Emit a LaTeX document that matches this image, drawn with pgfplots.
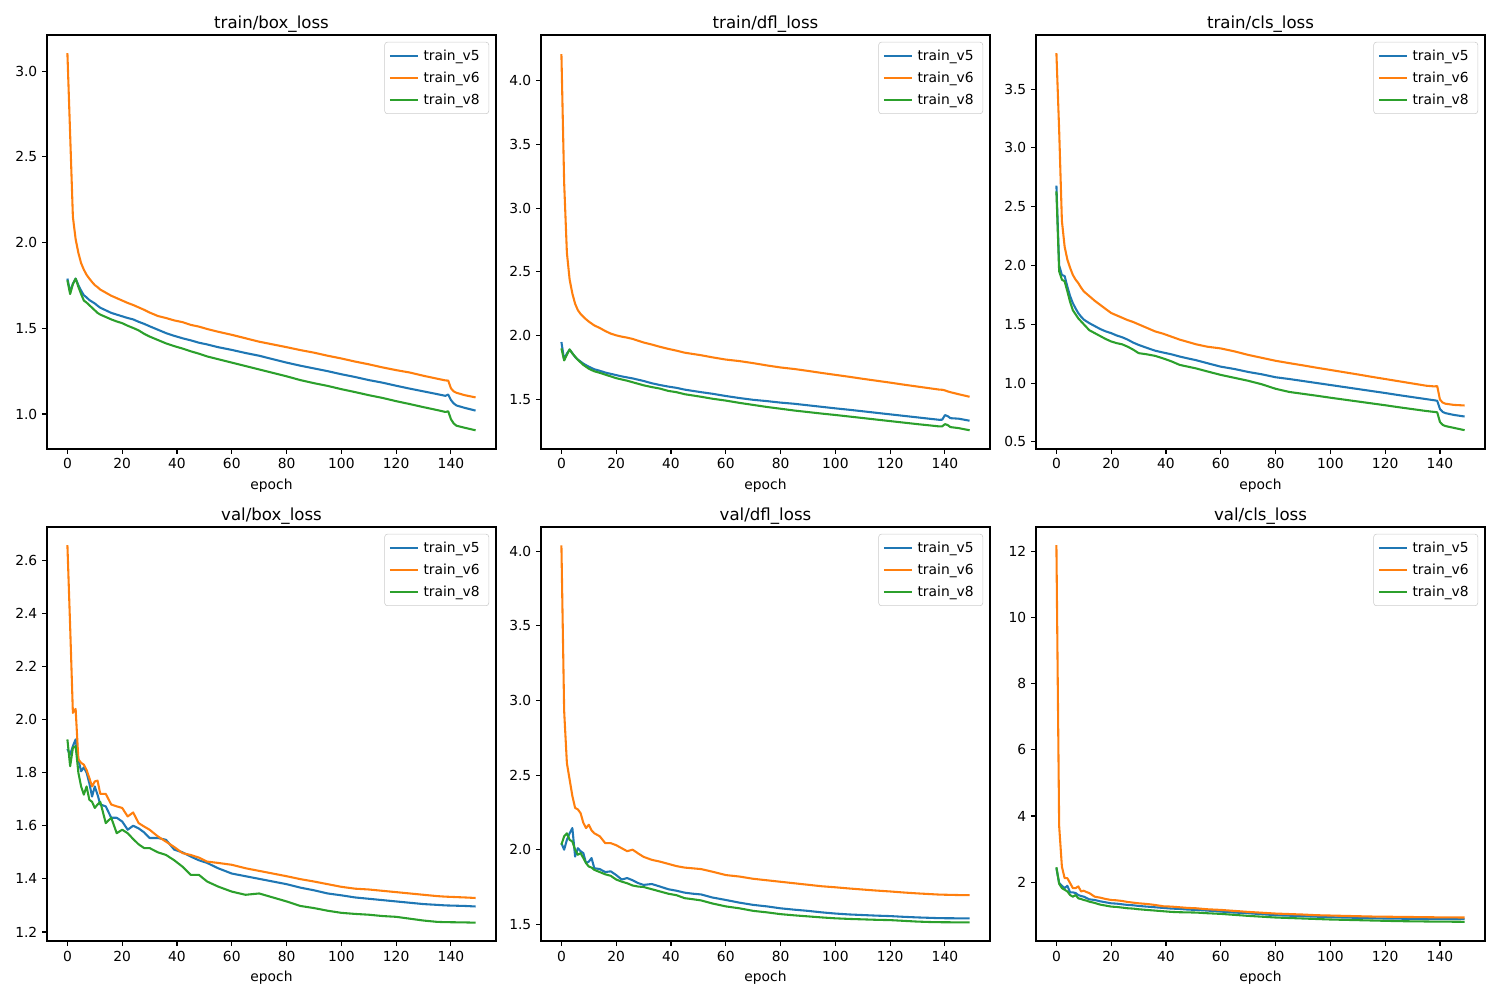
\documentclass[border=0pt]{standalone}
\usepackage{pgfplots}
\usepackage{pgfplotstable}
\pgfplotsset{compat=1.18}
\usepackage{fontspec}
\setmainfont{DejaVu Sans}
\definecolor{tabblue}{HTML}{1F77B4}
\definecolor{taborange}{HTML}{FF7F0E}
\definecolor{tabgreen}{HTML}{2CA02C}

% columns: epoch, train_v5, train_v6, train_v8
\pgfplotstableread{
e a b c
0 1.790 3.105 1.780
1 1.712 2.630 1.700
2 1.760 2.150 1.758
3 1.790 2.020 1.790
4 1.752 1.940 1.742
5 1.720 1.880 1.700
6 1.693 1.842 1.662
7 1.680 1.812 1.650
8 1.665 1.790 1.635
9 1.655 1.770 1.620
10 1.645 1.752 1.605
11 1.632 1.740 1.590
12 1.620 1.726 1.580
14 1.605 1.708 1.566
16 1.590 1.690 1.552
18 1.580 1.676 1.540
20 1.570 1.662 1.530
22 1.560 1.648 1.515
24 1.552 1.636 1.502
26 1.538 1.622 1.488
28 1.526 1.608 1.468
30 1.512 1.592 1.452
33 1.492 1.572 1.432
36 1.472 1.560 1.412
39 1.456 1.546 1.396
42 1.442 1.536 1.382
45 1.430 1.520 1.366
48 1.416 1.510 1.352
51 1.406 1.496 1.336
55 1.390 1.480 1.320
60 1.374 1.462 1.300
65 1.356 1.442 1.280
70 1.340 1.422 1.260
75 1.320 1.406 1.240
80 1.300 1.390 1.220
85 1.282 1.373 1.198
90 1.266 1.358 1.180
95 1.250 1.340 1.164
100 1.232 1.324 1.145
105 1.216 1.306 1.128
110 1.198 1.290 1.110
115 1.183 1.272 1.094
120 1.165 1.256 1.075
125 1.148 1.242 1.058
130 1.132 1.223 1.040
135 1.116 1.206 1.023
138 1.106 1.196 1.012
139 1.114 1.195 1.016
140 1.082 1.150 0.970
141 1.062 1.132 0.945
142 1.050 1.124 0.932
145 1.036 1.110 0.920
149 1.020 1.097 0.905
}\tboxtrain

\pgfplotstableread{
e a b c
0 1.950 4.210 1.900
1 1.810 3.200 1.805
2 1.860 2.650 1.850
3 1.890 2.440 1.892
4 1.862 2.330 1.860
5 1.832 2.250 1.835
6 1.812 2.200 1.810
7 1.796 2.170 1.790
8 1.780 2.148 1.770
9 1.768 2.128 1.755
10 1.756 2.110 1.740
11 1.746 2.095 1.730
12 1.736 2.080 1.720
14 1.724 2.060 1.708
16 1.710 2.036 1.694
18 1.700 2.016 1.680
20 1.690 2.002 1.666
22 1.680 1.992 1.656
24 1.672 1.984 1.646
26 1.664 1.974 1.634
28 1.654 1.960 1.622
30 1.644 1.946 1.610
33 1.626 1.930 1.596
36 1.612 1.912 1.584
39 1.600 1.896 1.566
42 1.590 1.882 1.556
45 1.576 1.866 1.540
48 1.566 1.856 1.530
51 1.556 1.846 1.520
55 1.544 1.830 1.505
60 1.526 1.812 1.490
65 1.510 1.800 1.472
70 1.496 1.784 1.456
75 1.486 1.766 1.440
80 1.474 1.750 1.426
85 1.465 1.738 1.412
90 1.453 1.723 1.400
95 1.441 1.707 1.388
100 1.429 1.692 1.377
105 1.418 1.677 1.365
110 1.406 1.661 1.353
115 1.394 1.646 1.341
120 1.382 1.631 1.329
125 1.370 1.615 1.317
130 1.358 1.600 1.305
135 1.346 1.585 1.294
138 1.339 1.576 1.287
139 1.340 1.575 1.288
140 1.376 1.570 1.305
141 1.368 1.562 1.298
142 1.352 1.556 1.282
145 1.348 1.540 1.274
149 1.332 1.520 1.257
}\tdfltrain

\pgfplotstableread{
e a b c
0 2.680 3.806 2.630
1 2.000 3.150 1.950
2 1.920 2.380 1.880
3 1.910 2.160 1.865
4 1.820 2.050 1.780
5 1.740 1.980 1.690
6 1.680 1.920 1.620
7 1.635 1.880 1.585
8 1.595 1.850 1.550
9 1.565 1.812 1.525
10 1.540 1.780 1.500
11 1.525 1.760 1.475
12 1.510 1.740 1.450
14 1.485 1.700 1.425
16 1.460 1.665 1.400
18 1.440 1.630 1.375
20 1.425 1.596 1.354
22 1.405 1.576 1.340
24 1.390 1.556 1.330
26 1.370 1.536 1.310
28 1.345 1.520 1.285
30 1.325 1.500 1.255
33 1.300 1.470 1.245
36 1.276 1.440 1.232
39 1.260 1.420 1.210
42 1.245 1.395 1.185
45 1.226 1.370 1.155
48 1.210 1.350 1.140
51 1.195 1.330 1.125
55 1.170 1.310 1.100
60 1.140 1.295 1.070
65 1.120 1.270 1.045
70 1.095 1.240 1.020
75 1.075 1.215 0.990
80 1.050 1.190 0.952
85 1.035 1.170 0.925
90 1.018 1.151 0.909
95 1.001 1.131 0.893
100 0.984 1.112 0.876
105 0.967 1.093 0.860
110 0.950 1.074 0.844
115 0.933 1.054 0.828
120 0.916 1.035 0.812
125 0.898 1.016 0.795
130 0.881 0.997 0.779
135 0.864 0.978 0.763
138 0.854 0.972 0.755
139 0.850 0.975 0.752
140 0.780 0.860 0.670
141 0.755 0.835 0.645
142 0.745 0.825 0.635
145 0.730 0.815 0.620
149 0.716 0.810 0.600
}\tclstrain

\pgfplotstableread{
e a b c
0 1.889 2.657 1.925
1 1.868 2.350 1.824
2 1.900 2.025 1.893
3 1.925 2.040 1.900
4 1.850 1.850 1.800
5 1.805 1.837 1.748
6 1.820 1.830 1.717
7 1.800 1.810 1.748
8 1.760 1.780 1.698
9 1.710 1.748 1.690
10 1.748 1.767 1.667
11 1.717 1.770 1.680
12 1.680 1.720 1.690
14 1.673 1.720 1.610
16 1.630 1.680 1.630
18 1.630 1.673 1.572
20 1.616 1.667 1.585
22 1.585 1.635 1.572
24 1.600 1.650 1.550
26 1.590 1.610 1.530
28 1.575 1.597 1.516
30 1.554 1.585 1.516
33 1.554 1.560 1.500
36 1.547 1.540 1.490
39 1.510 1.520 1.470
42 1.500 1.497 1.446
45 1.484 1.490 1.415
48 1.470 1.480 1.415
51 1.460 1.465 1.390
55 1.440 1.460 1.371
60 1.420 1.453 1.352
65 1.410 1.440 1.340
70 1.400 1.430 1.345
75 1.390 1.420 1.330
80 1.380 1.410 1.315
85 1.367 1.399 1.298
90 1.357 1.390 1.290
95 1.345 1.380 1.280
100 1.338 1.370 1.272
105 1.330 1.363 1.268
110 1.325 1.360 1.265
115 1.320 1.355 1.260
120 1.315 1.350 1.257
125 1.310 1.345 1.250
130 1.305 1.340 1.243
135 1.302 1.335 1.238
138 1.300 1.333 1.237
145 1.298 1.330 1.236
149 1.296 1.328 1.235
}\tboxval

\pgfplotstableread{
e a b c
0 2.044 4.040 2.033
1 2.000 2.930 2.090
2 2.066 2.580 2.110
3 2.110 2.470 2.066
4 2.145 2.360 2.055
5 1.954 2.280 2.000
6 2.010 2.270 1.966
7 1.990 2.245 1.977
8 1.977 2.180 1.944
9 1.910 2.145 1.910
10 1.920 2.167 1.887
11 1.944 2.130 1.880
12 1.876 2.110 1.865
14 1.870 2.090 1.850
16 1.850 2.044 1.835
18 1.855 2.044 1.825
20 1.830 2.030 1.800
22 1.800 2.010 1.786
24 1.810 1.990 1.775
26 1.795 2.000 1.760
28 1.776 1.975 1.753
30 1.764 1.952 1.750
33 1.770 1.932 1.735
36 1.753 1.920 1.720
39 1.735 1.905 1.705
42 1.725 1.890 1.695
45 1.712 1.880 1.675
48 1.705 1.875 1.668
51 1.700 1.870 1.660
55 1.680 1.853 1.640
60 1.663 1.830 1.620
65 1.645 1.820 1.607
70 1.630 1.805 1.590
75 1.620 1.795 1.580
80 1.607 1.785 1.568
85 1.598 1.775 1.560
90 1.590 1.765 1.553
95 1.580 1.755 1.546
100 1.572 1.748 1.540
105 1.566 1.740 1.536
110 1.562 1.733 1.533
115 1.558 1.726 1.530
120 1.555 1.720 1.528
125 1.550 1.713 1.523
130 1.546 1.707 1.518
135 1.543 1.702 1.515
138 1.541 1.699 1.514
145 1.540 1.696 1.513
149 1.540 1.695 1.513
}\tdflval

\pgfplotstableread{
e a b c
0 2.42 12.19 2.45
1 1.97 3.70 1.95
2 1.89 2.47 1.82
3 1.82 2.12 1.77
4 1.89 2.12 1.72
5 1.69 1.97 1.61
6 1.69 1.82 1.56
7 1.67 1.82 1.61
8 1.61 1.87 1.51
9 1.58 1.72 1.49
10 1.56 1.74 1.46
11 1.52 1.70 1.44
12 1.48 1.67 1.41
14 1.46 1.56 1.37
16 1.42 1.53 1.32
18 1.39 1.49 1.29
20 1.36 1.46 1.26
22 1.35 1.45 1.25
24 1.33 1.43 1.23
26 1.31 1.40 1.21
28 1.30 1.38 1.20
30 1.28 1.36 1.18
33 1.26 1.34 1.16
36 1.24 1.31 1.14
39 1.22 1.27 1.12
42 1.20 1.26 1.10
45 1.19 1.24 1.09
48 1.17 1.22 1.085
51 1.16 1.21 1.08
55 1.14 1.18 1.06
60 1.11 1.16 1.04
65 1.08 1.13 1.01
70 1.06 1.10 0.98
75 1.03 1.075 0.955
80 1.00 1.05 0.93
85 0.985 1.035 0.915
90 0.97 1.02 0.90
95 0.955 1.00 0.885
100 0.94 0.99 0.87
105 0.93 0.98 0.86
110 0.92 0.97 0.85
115 0.91 0.96 0.84
120 0.90 0.955 0.83
125 0.895 0.95 0.82
130 0.89 0.945 0.815
135 0.885 0.94 0.81
138 0.883 0.937 0.806
145 0.881 0.933 0.803
149 0.88 0.93 0.80
}\tclsval

\pgfplotsset{
  lossax/.style={
    scale only axis, width=4.49in, height=4.14in, anchor=south west,
    xmin=-7.45, xmax=156.45,
    xtick={0,20,...,140},
    tick align=outside, xtick pos=left, ytick pos=left,
    major tick length=3.5pt,
    every tick/.style={black, line width=0.8pt},
    axis line style={line width=0.8pt},
    scaled ticks=false,
    tick label style={font=\fontsize{10}{12}\selectfont},
    /pgf/number format/assume math mode=true,
    y tick label style={/pgf/number format/.cd, fixed, fixed zerofill, precision=1},
    xlabel={epoch},
    label style={font=\fontsize{10}{12}\selectfont},
    title style={font=\fontsize{12}{14}\selectfont, yshift=-8pt},
    legend style={at={(1,1)}, anchor=north east, xshift=-5pt, yshift=-5pt,
      draw=black!20, rounded corners=2pt, fill=white, fill opacity=0.8, text opacity=1,
      font=\fontsize{10}{12}\selectfont, row sep=0pt,
      nodes={inner xsep=3.6pt, inner ysep=3.4pt}},
    legend cell align=left,
    legend image code/.code={\draw[#1] (0pt,0pt) -- (20pt,0pt);},
    every axis plot/.append style={line width=1.5pt, line join=round, mark=none},
  }
}

\begin{document}
\begin{tikzpicture}
\useasboundingbox (0,0) rectangle (15in,10in);

\begin{axis}[lossax, at={(0.47in,5.51in)}, title={train/box\_loss},
  ymin=0.796, ymax=3.211, ytick={1.0,1.5,...,3.0}]
\addplot[tabblue] table[x=e,y=a]{\tboxtrain};
\addplot[taborange] table[x=e,y=b]{\tboxtrain};
\addplot[tabgreen] table[x=e,y=c]{\tboxtrain};
\legend{train\_v5,train\_v6,train\_v8}
\end{axis}

\begin{axis}[lossax, at={(5.41in,5.51in)}, title={train/dfl\_loss},
  ymin=1.11, ymax=4.36, ytick={1.5,2.0,...,4.0}]
\addplot[tabblue] table[x=e,y=a]{\tdfltrain};
\addplot[taborange] table[x=e,y=b]{\tdfltrain};
\addplot[tabgreen] table[x=e,y=c]{\tdfltrain};
\legend{train\_v5,train\_v6,train\_v8}
\end{axis}

\begin{axis}[lossax, at={(10.36in,5.51in)}, title={train/cls\_loss},
  ymin=0.44, ymax=3.96, ytick={0.5,1.0,...,3.5}]
\addplot[tabblue] table[x=e,y=a]{\tclstrain};
\addplot[taborange] table[x=e,y=b]{\tclstrain};
\addplot[tabgreen] table[x=e,y=c]{\tclstrain};
\legend{train\_v5,train\_v6,train\_v8}
\end{axis}

\begin{axis}[lossax, at={(0.47in,0.59in)}, title={val/box\_loss},
  ymin=1.166, ymax=2.725, ytick={1.2,1.4,...,2.6}]
\addplot[tabblue] table[x=e,y=a]{\tboxval};
\addplot[taborange] table[x=e,y=b]{\tboxval};
\addplot[tabgreen] table[x=e,y=c]{\tboxval};
\legend{train\_v5,train\_v6,train\_v8}
\end{axis}

\begin{axis}[lossax, at={(5.41in,0.59in)}, title={val/dfl\_loss},
  ymin=1.388, ymax=4.163, ytick={1.5,2.0,...,4.0}]
\addplot[tabblue] table[x=e,y=a]{\tdflval};
\addplot[taborange] table[x=e,y=b]{\tdflval};
\addplot[tabgreen] table[x=e,y=c]{\tdflval};
\legend{train\_v5,train\_v6,train\_v8}
\end{axis}

\begin{axis}[lossax, at={(10.36in,0.59in)}, title={val/cls\_loss},
  ymin=0.22, ymax=12.74, ytick={2,4,...,12},
  y tick label style={/pgf/number format/precision=0}]
\addplot[tabblue] table[x=e,y=a]{\tclsval};
\addplot[taborange] table[x=e,y=b]{\tclsval};
\addplot[tabgreen] table[x=e,y=c]{\tclsval};
\legend{train\_v5,train\_v6,train\_v8}
\end{axis}
\end{tikzpicture}
\end{document}
